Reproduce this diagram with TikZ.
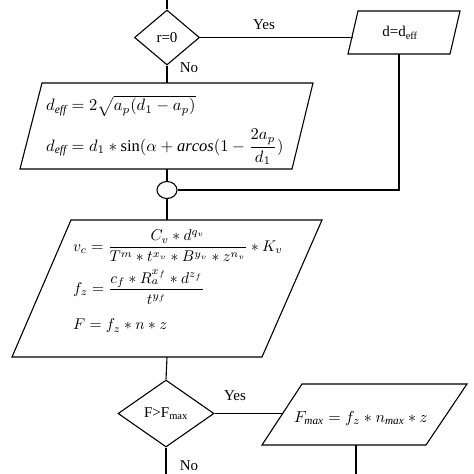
\documentclass[tikz,border=0pt]{standalone}
\usepackage{amsmath}
\usepackage{fontspec}
\setmainfont{Liberation Serif}
\usetikzlibrary{shapes.geometric}
\newcommand{\bigf}[2][1.55]{\scalebox{#1}{#2}}
\tikzset{
  box/.style={line width=1.1pt, line join=miter},
  conn/.style={line width=1.1pt},
  decision/.style={diamond, draw, line width=1.1pt, inner sep=0pt, font=\fontsize{15}{17}\selectfont},
  lbl/.style={font=\fontsize{15}{17}\selectfont, inner sep=0pt},
  frm/.style={inner sep=0pt, anchor=west},
}
\begin{document}
\begin{tikzpicture}[x=1pt,y=-1pt]
\useasboundingbox (0,0) rectangle (474,474);
% top entry
\coordinate (top) at (167,0);
% decision r=0
\node[decision, minimum width=65pt, minimum height=55pt] (d1) at (167,37.5) {r=0};
% parallelogram d=deff
\coordinate (p1a) at (358,11); \coordinate (p1b) at (460,11);
\coordinate (p1c) at (450,54); \coordinate (p1d) at (348,54);
\draw[box] (p1a) -- (p1b) -- (p1c) -- (p1d) -- cycle;
\node[lbl] (p1t) at (400,33) {d=d\textsubscript{eff}};
\coordinate (p1in) at (352.5,37.5);
\coordinate (p1out) at (399,54);
\coordinate (p1corner) at (399,190);
% parallelogram 2
\coordinate (p2a) at (42,83); \coordinate (p2b) at (313,83);
\coordinate (p2c) at (292,169); \coordinate (p2d) at (20,169);
\draw[box] (p2a) -- (p2b) -- (p2c) -- (p2d) -- cycle;
\coordinate (p2in) at (167,83);
\coordinate (p2out) at (167,169);
\node[frm] (f1) at (46,106) {\bigf[1.65]{$d_{\mathit{eff}} = 2\sqrt{a_p(d_1 - a_p)}$}};
\node[frm] (f2) at (46,147) {\bigf[1.65]{$d_{\mathit{eff}} = d_1 \ast \sin(\alpha + \mathit{arcos}(1 - \dfrac{2a_p}{d_1})$}};
% connector circle
\node[ellipse, draw, line width=1.1pt, minimum width=20pt, minimum height=17pt, inner sep=0pt] (c1) at (167,190) {};
% parallelogram 3
\coordinate (p3a) at (71,220); \coordinate (p3b) at (322,220);
\coordinate (p3c) at (262,357); \coordinate (p3d) at (12,357);
\draw[box] (p3a) -- (p3b) -- (p3c) -- (p3d) -- cycle;
\coordinate (p3in) at (167,220);
\coordinate (p3out) at (167,357);
\node[frm] (f3) at (73,246) {\bigf{$v_c = \dfrac{C_v \ast d^{q_v}}{T^m \ast t^{x_v} \ast B^{y_v} \ast z^{n_v}} \ast K_v$}};
\node[frm] (f4) at (73,287) {\bigf{$f_z = \dfrac{c_f \ast R_a^{x_f} \ast d^{z_f}}{t^{y_f}}$}};
\node[frm] (f5) at (73,326) {\bigf{$F = f_z \ast n \ast z$}};
% decision F>Fmax
\node[decision, minimum width=96pt, minimum height=67pt] (d2) at (166,413.5) {F>F\textsubscript{max}};
% parallelogram 4
\coordinate (p4a) at (302,384); \coordinate (p4b) at (467,384);
\coordinate (p4c) at (426,445); \coordinate (p4d) at (262,445);
\draw[box] (p4a) -- (p4b) -- (p4c) -- (p4d) -- cycle;
\node[frm, anchor=center] (f6) at (361,418) {\bigf[1.6]{$F_{\mathit{max}} = f_z \ast n_{\mathit{max}} \ast z$}};
\coordinate (p4in) at (281.5,413.5);
\coordinate (p4out) at (356,445);
\coordinate (p4end) at (356,474);
\coordinate (bot) at (166,474);
% connectors
\draw[conn] (top) -- (d1.north);
\draw[conn] (d1.east) -- (p1in);
\draw[conn] (d1.south) -- (p2in);
\draw[conn] (p1out) -- (p1corner) -- (c1.east);
\draw[conn] (p2out) -- (c1.north);
\draw[conn] (c1.south) -- (p3in);
\draw[conn] (p3out) -- (d2.north);
\draw[conn] (d2.east) -- (p4in);
\draw[conn] (d2.south) -- (bot);
\draw[conn] (p4out) -- (p4end);
% labels
\node[lbl] (yes1) at (264,25) {Yes};
\node[lbl] (no1) at (189,68) {No};
\node[lbl] (yes2) at (235,396) {Yes};
\node[lbl] (no2) at (189,466) {No};
\end{tikzpicture}
\end{document}
